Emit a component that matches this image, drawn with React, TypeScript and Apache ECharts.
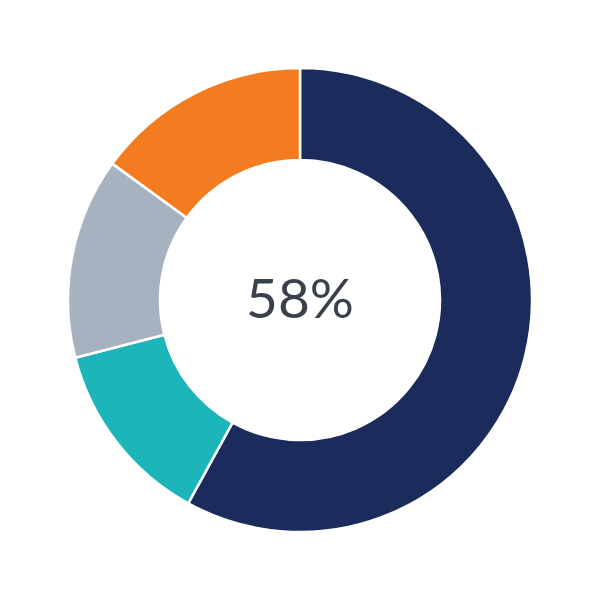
import React, { useEffect, useRef } from "react";
import * as echarts from "echarts";

const categories = ["A", "B", "C", "D"];
const values = [58, 13, 14, 15];
const colors = ["#1b2b5b", "#1cb5b9", "#a7b2c1", "#f47c20"];
const centerLabel = "58%";

export default function App() {
  const ref = useRef<HTMLDivElement>(null);
  useEffect(() => {
    if (!ref.current) return;
    const chart = echarts.init(ref.current, null, { renderer: "svg" });
    chart.setOption({
      animation: false,
      backgroundColor: "#ffffff",
      graphic: [
        {
          type: "text",
          x: 300,
          y: 297,
          style: {
            text: centerLabel,
            fontFamily: "Lato",
            fontWeight: "normal",
            fontSize: 55,
            fill: "#3b414c",
            align: "center",
            verticalAlign: "middle",
          },
        },
      ],
      series: [
        {
          type: "pie",
          center: [300, 300],
          radius: [140, 232],
          startAngle: 90,
          clockwise: true,
          label: { show: false },
          labelLine: { show: false },
          itemStyle: { borderColor: "#ffffff", borderWidth: 2.5 },
          data: categories.map((c, i) => ({
            name: c,
            value: values[i],
            itemStyle: { color: colors[i] },
          })),
        },
      ],
    });
    return () => chart.dispose();
  }, []);
  return (
    <div
      ref={ref}
      style={{ position: "fixed", left: 0, top: 0, width: 600, height: 600 }}
    />
  );
}
